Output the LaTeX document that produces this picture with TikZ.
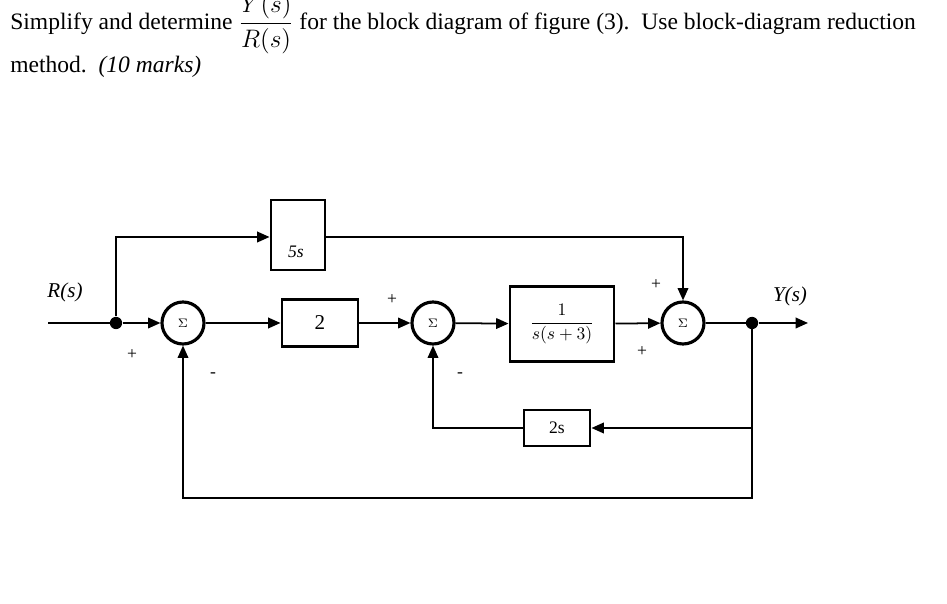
\documentclass[tikz,border=0pt]{standalone}
\usepackage{amsmath}
\usepackage{fontspec}
\setmainfont{Liberation Serif}
\usetikzlibrary{arrows.meta}
\begin{document}
\begin{tikzpicture}[x=0.02cm,y=-0.02cm,
  blk/.style={draw,line width=1.7pt,minimum width=#1,inner sep=0pt,font=\large},
  sum/.style={draw,circle,line width=1.8pt,minimum size=42*0.02cm,inner sep=0pt,font=\scriptsize},
  sig/.style={font=\normalsize},
  ln/.style={line width=1pt},
  ar/.style={ln,-{Triangle[length=7pt,width=6pt]}},
  dot/.style={circle,fill,inner sep=0pt,minimum size=7pt}]
\useasboundingbox (0,0) rectangle (947,604);
\node[anchor=base west,font=\fontsize{13.4}{16}\selectfont,inner sep=0pt] (t1) at (10,30)
  {Simplify and determine $\dfrac{Y(s)}{R(s)}$ for the block diagram of figure (3).\ \ Use block-diagram reduction};
\node[anchor=base west,font=\fontsize{13.4}{16}\selectfont,inner sep=0pt] (t2) at (10,73)
  {method.\ \ \textit{(10 marks)}};
% nodes
\coordinate (in) at (48,323);
\node[dot] (j1) at (116,323) {};
\node[sum] (s1) at (183,323) {$\Sigma$};
\node[blk=54*0.02cm,minimum height=70*0.02cm] (b5) at (298,235) {};
\node[font=\normalsize] (l5) at (296,252) {\textit{5s}};
\node[blk=76*0.02cm,minimum height=47*0.02cm] (b2) at (320,323) {2};
\node[sum] (s2) at (433,323) {$\Sigma$};
\node[blk=104*0.02cm,minimum height=75*0.02cm,font=\normalsize] (g) at (562,324)
  {$\dfrac{1}{s(s+3)}$};
\node[sum] (s3) at (683,323) {$\Sigma$};
\node[dot] (j2) at (752,323) {};
\coordinate (out) at (808,323);
\node[blk=66*0.02cm,minimum height=36*0.02cm,font=\normalsize] (h) at (557,428) {2s};
\node[font=\large] (rs) at (65,292) {\textit{R(s)}};
\node[font=\large] (ys) at (790,296) {\textit{Y(s)}};
% signs
\node[sig] (p1) at (132,355) {+};
\node[sig] (m1) at (213,375) {-};
\node[sig] (p2) at (392,300) {+};
\node[sig] (m2) at (460,375) {-};
\node[sig] (p3) at (656,285) {+};
\node[sig] (p4) at (642,352) {+};
% connectors
\draw[ln] (in) -- (j1);
\draw[ar] (j1) -- (s1);
\draw[ar] (s1) -- (b2);
\draw[ar] (b2) -- (s2);
\draw[ar] (s2) -- (g);
\draw[ar] (g) -- (s3);
\draw[ln] (s3) -- (j2);
\draw[ar] (j2) -- (out);
\draw[ar] (j1) |- (b5.west |- 0,237);
\draw[ar] (b5.east |- 0,237) -| (s3);
\draw[ar] (j2) |- (h);
\draw[ar] (h) -| (s2);
\draw[ar] (j2) |- (183,498) -- (s1);
\end{tikzpicture}
\end{document}
